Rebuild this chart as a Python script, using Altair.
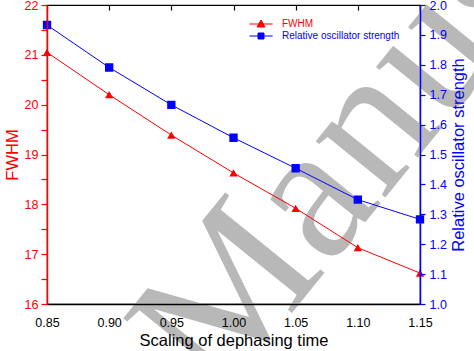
import altair as alt
import pandas as pd

# ---- data ----
x_vals = [0.85, 0.90, 0.95, 1.00, 1.05, 1.10, 1.15]
fwhm = [21.05, 20.20, 19.39, 18.63, 17.92, 17.13, 16.62]
osc = [1.933, 1.791, 1.666, 1.556, 1.454, 1.349, 1.283]
series_names = ["FWHM", "Relative oscillator strength"]
x_ticks = [0.85, 0.90, 0.95, 1.00, 1.05, 1.10, 1.15]
left_ticks = [16, 16.5, 17, 17.5, 18, 18.5, 19, 19.5, 20, 20.5, 21, 21.5, 22]
right_ticks = [1.0, 1.1, 1.2, 1.3, 1.4, 1.5, 1.6, 1.7, 1.8, 1.9, 2.0]
watermark_words = ["Accepted", "Manuscript"]

RED = "#ff0000"
BLUE = "#0000ff"
GRAY = "#b8b8b8"

df = pd.DataFrame({"x": x_vals, "fwhm": fwhm, "osc": osc})

xs = alt.Scale(domain=[0.85, 1.15], nice=False, zero=False)
ys_left = alt.Scale(domain=[16, 22], nice=False, zero=False)
ys_right = alt.Scale(domain=[1.0, 2.0], nice=False, zero=False)

TRI_PATH = "M-2.9,0H2.9M-1,0.75L0,-1L1,0.75Z"
SQ_PATH = "M-2.9,0H2.9M-0.75,-0.75H0.75V0.75H-0.75Z"


def make_legend(y, col, path):
    return alt.Legend(
        title=None,
        orient="none",
        legendX=209,
        legendY=y,
        padding=0,
        labelFont="Liberation Sans",
        labelFontSize=10,
        labelColor=col,
        labelOffset=16,
        symbolType=path,
        symbolSize=64,
        symbolFillColor=col,
        symbolStrokeColor=col,
        symbolStrokeWidth=1,
        symbolOpacity=1,
        zindex=2,
    )


# watermark (decoration)
WM_SIZE = 195
wm_manu = alt.Chart(pd.DataFrame({"t": [watermark_words[1]]})).mark_text(
    angle=309, font="Liberation Serif", fontSize=WM_SIZE, color=GRAY,
    align="left", baseline="alphabetic"
).encode(text="t:N", x=alt.value(172), y=alt.value(398))

wm_acc = alt.Chart(pd.DataFrame({"t": [watermark_words[0]]})).mark_text(
    angle=309, font="Liberation Serif", fontSize=WM_SIZE, color=GRAY,
    align="right", baseline="alphabetic"
).encode(text="t:N", x=alt.value(141), y=alt.value(436))

red_line = alt.Chart(df).mark_line(strokeWidth=1, color=RED).encode(
    x=alt.X("x:Q", scale=xs, axis=alt.Axis(
        title="Scaling of dephasing time", values=x_ticks, format=".2f",
        labelFlush=False, zindex=2,
        ticks=False, tickSize=0, labelPadding=12, titlePadding=4,
        domainColor="black", domainWidth=1.5, labelColor="black", titleColor="black")),
    y=alt.Y("fwhm:Q", scale=ys_left, axis=alt.Axis(
        title="FWHM", orient="left", values=left_ticks, zindex=2,
        labelExpr="datum.value % 1 == 0 ? format(datum.value, 'd') : ''",
        domainColor=RED, tickColor=RED, labelColor=RED, titleColor=RED,
        domainWidth=1.5, tickWidth=1.2, tickSize=6, labelPadding=3, titlePadding=4)),
)

red_pts = alt.Chart(df).transform_calculate(series="'FWHM'").mark_point(
    shape="triangle-up", filled=True, size=70, opacity=1
).encode(
    x=alt.X("x:Q", scale=xs, axis=None),
    y=alt.Y("fwhm:Q", scale=ys_left, axis=None),
    fill=alt.Fill("series:N", scale=alt.Scale(domain=[series_names[0]], range=[RED]),
                  legend=make_legend(14, RED, TRI_PATH)),
)

blue_line = alt.Chart(df).mark_line(strokeWidth=1, color=BLUE).encode(
    x=alt.X("x:Q", scale=xs, axis=alt.Axis(
        orient="top", title=None, labels=False, domain=False, ticks=True, zindex=2,
        tickSize=5, tickColor="black", tickWidth=1.2, offset=-5, values=x_ticks)),
    y=alt.Y("osc:Q", scale=ys_right, axis=alt.Axis(
        title="Relative oscillator strength", orient="right", values=right_ticks, format=".1f",
        zindex=2,
        domainColor=BLUE, tickColor=BLUE, labelColor=BLUE, titleColor=BLUE,
        domainWidth=1.5, tickWidth=1.2, tickSize=5, labelPadding=4,
        titleAngle=270, titleBaseline="top", titlePadding=4)),
)

blue_pts = alt.Chart(df).transform_calculate(series="'Relative oscillator strength'").mark_point(
    shape="square", filled=True, size=40, color=BLUE, opacity=1
).encode(
    x=alt.X("x:Q", scale=xs, axis=None),
    y=alt.Y("osc:Q", scale=ys_right, axis=None),
    stroke=alt.Stroke("series:N", scale=alt.Scale(domain=[series_names[1]], range=[BLUE]),
                      legend=make_legend(26, BLUE, SQ_PATH)),
)

chart = alt.layer(
    wm_acc, wm_manu, red_line, red_pts, blue_line, blue_pts
).resolve_scale(
    y="independent"
).resolve_axis(
    x="independent", y="independent"
).properties(
    width=373,
    height=299,
    autosize=alt.AutoSizeParams(type="none"),
    padding={"left": 47, "top": 5, "right": 54, "bottom": 47},
).configure_axis(
    labelFont="Liberation Sans",
    titleFont="Liberation Sans",
    labelFontSize=12.5,
    titleFontSize=16.5,
    titleFontWeight="normal",
    grid=False,
).configure_view(
    stroke="black",
    strokeWidth=1.2,
)

chart.save("out.html", embed_options={"renderer": "svg", "actions": False})
